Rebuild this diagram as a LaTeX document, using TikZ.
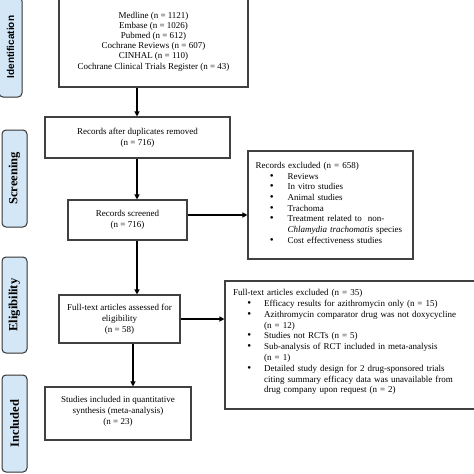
\documentclass[tikz,border=0pt]{standalone}
\usepackage{fontspec}
\setmainfont{Liberation Serif}
\setsansfont{Liberation Sans}
\usetikzlibrary{arrows.meta}
\definecolor{boxline}{HTML}{404040}
\definecolor{stagefill}{HTML}{D3E7F7}
\tikzset{
  box/.style={draw=boxline, line width=1.1pt, inner sep=0pt, font=\fontsize{9}{10.8}\selectfont, align=center},
  listtext/.style={inner sep=0pt, font=\fontsize{9}{10.8}\selectfont, align=left, anchor=north west},
  stage/.style={draw=black!80, line width=1pt, fill=stagefill, rounded corners=4pt, rotate=90, inner sep=0pt, font=\fontsize{12.5}{13}\selectfont\bfseries},
  arr/.style={draw=black, line width=1.1pt, -{Triangle[length=5pt,width=5pt]}},
}
\newcommand{\bigbul}{{\fontsize{11}{10}\selectfont\textbullet}}
\newcommand{\bul}[1]{\makebox[#1][r]{\bigbul\hspace*{3pt}}\hspace*{11pt}}
\newcommand{\bulb}[1]{\makebox[#1][r]{\bigbul\hspace*{3pt}}\hspace*{10pt}}
\begin{document}
\begin{tikzpicture}[x=1pt,y=-1pt]
\clip (0,0) rectangle (474,474);
\fill[white] (0,0) rectangle (474,474);
% stage labels
\node[stage, minimum width=100pt, minimum height=23pt, font=\fontsize{10}{11}\sffamily\bfseries] (sid) at (10.5,47) {Identification};
\node[stage, minimum width=97pt, minimum height=25pt] (ssc) at (14.5,178.5) {Screening};
\node[stage, minimum width=96pt, minimum height=25pt] (sel) at (14.5,305) {Eligibility};
\node[stage, minimum width=97pt, minimum height=25pt] (sin) at (14.5,423.5) {Included};
% boxes
\node[box, minimum width=189pt, minimum height=88pt, text depth=5pt, font=\fontsize{9}{10.2}\selectfont] (src) at (153.5,43) {%
Medline (n = 1121)\\Embase (n = 1026)\\Pubmed (n = 612)\\Cochrane Reviews (n = 607)\\CINHAL (n = 110)\\Cochrane Clinical Trials Register (n = 43)};
\node[box, minimum width=185pt, minimum height=41pt] (dup) at (137.5,137.5) {Records after duplicates removed\\(n = 716)};
\node[box, minimum width=119pt, minimum height=40pt] (scr) at (127.5,220) {Records screened\\(n = 716)};
\node[box, minimum width=165pt, minimum height=108pt] (exc) at (330.5,205) {};
\node[listtext, text width=155pt, font=\fontsize{9}{10.7}\selectfont] (exct) at (255.5,162) {%
Records excluded (n = 658)\\
\bul{21pt}Reviews\\
\bul{21pt}In vitro studies\\
\bul{21pt}Animal studies\\
\bul{21pt}Trachoma\\
\bul{21pt}Treatment related to\ \ non-\\
\hspace*{32pt}\textit{Chlamydia trachomatis} species\\
\bul{21pt}Cost effectiveness studies};
\node[box, minimum width=121pt, minimum height=48pt] (full) at (119.5,319) {Full-text articles assessed for\\eligibility\\(n = 58)};
\node[box, minimum width=252pt, minimum height=128pt] (exc2) at (351,345) {};
\node[listtext, text width=240pt] (exc2t) at (233,289.3) {%
Full-text articles excluded (n = 35)\\
\bulb{21pt}Efficacy results for azithromycin only (n = 15)\\
\bulb{21pt}Azithromycin comparator drug was not doxycycline\\
\hspace*{31pt}(n = 12)\\
\bulb{21pt}Studies not RCTs (n = 5)\\
\bulb{21pt}Sub-analysis of RCT included in meta-analysis\\
\hspace*{31pt}(n = 1)\\
\bulb{21pt}Detailed study design for 2 drug-sponsored trials\\
\hspace*{31pt}citing summary efficacy data was unavailable from\\
\hspace*{31pt}drug company upon request (n = 2)};
\node[box, minimum width=146pt, minimum height=53pt, text depth=6pt] (inc) at (118,413.5) {Studies included in quantitative\\synthesis (meta-analysis)\\(n = 23)};
% connectors
\coordinate (ca) at (137,0);
\coordinate (cb) at (133,0);
\draw[arr] (src.south -| ca) -- (dup.north -| ca);
\draw[arr] (dup.south -| ca) -- (scr.north -| ca);
\draw[arr] (scr.south -| ca) -- (full.north -| ca);
\draw[arr] (full.south -| cb) -- (inc.north -| cb);
\coordinate (cc) at (0,215);
\coordinate (cd) at (0,319);
\draw[arr] (scr.east |- cc) -- (exc.west |- cc);
\draw[arr] (full.east |- cd) -- (exc2.west |- cd);
\end{tikzpicture}
\end{document}
